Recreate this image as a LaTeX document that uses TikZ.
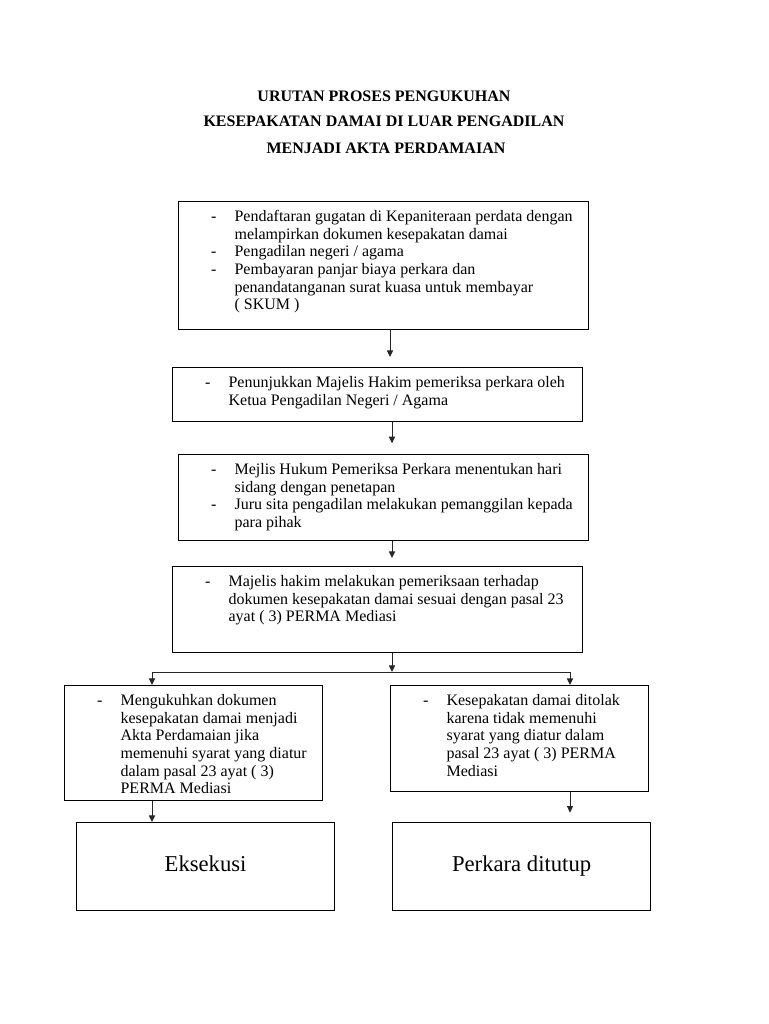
\documentclass[tikz,border=0pt]{standalone}
\usepackage{fontspec}
\setmainfont{Liberation Serif}
\usetikzlibrary{shapes,arrows.meta}
\newlength\pxu
\setlength\pxu{0.75pt}
% kotak isi dengan daftar bertanda "-"
\newcommand{\boxbody}[3]{\parbox[c][#2\pxu][t]{#1\pxu}{%
  \fontsize{12}{13.2}\selectfont\raggedright\leftskip=56\pxu
  \vspace*{5.8pt}#3}}
\newcommand{\bitem}{\par\noindent\strut\llap{\makebox[23.5\pxu][l]{-}}}
\tikzset{
  stepbox/.style = {draw=black, line width=0.9pt, inner sep=0pt,
    anchor=north west},
  endbox/.style = {stepbox, minimum width=258\pxu, minimum height=88\pxu,
    text height=11pt, text depth=3.5pt, font=\fontsize{17}{20}\selectfont},
  titleline/.style = {font=\fontsize{12}{14}\selectfont\bfseries, anchor=base},
  arr/.style = {->, line width=0.7pt, black!85}
}

\begin{document}
\begin{tikzpicture}[x=0.75pt,y=-0.75pt,>={Triangle[length=5pt,width=4.6pt]}]
\useasboundingbox (0,0) rectangle (768,1024);
% judul
\node[titleline] (t1) at (384,101) {URUTAN PROSES PENGUKUHAN};
\node[titleline] (t2) at (384,127) {KESEPAKATAN DAMAI DI LUAR PENGADILAN};
\node[titleline] (t3) at (386,153) {MENJADI AKTA PERDAMAIAN};
% kotak tahapan
\node[stepbox] (b1) at (178,201) {\boxbody{410}{128}{%
  \bitem Pendaftaran gugatan di Kepaniteraan perdata dengan\\
    melampirkan dokumen kesepakatan damai
  \bitem Pengadilan negeri / agama
  \bitem Pembayaran panjar biaya perkara dan\\
    penandatanganan surat kuasa untuk membayar\\
    ( SKUM )}};
\node[stepbox] (b2) at (172,367) {\boxbody{410}{54}{%
  \bitem Penunjukkan Majelis Hakim pemeriksa perkara oleh\\
    Ketua Pengadilan Negeri / Agama}};
\node[stepbox] (b3) at (178,454) {\boxbody{410}{86}{%
  \bitem Mejlis Hukum Pemeriksa Perkara menentukan hari\\
    sidang dengan penetapan
  \bitem Juru sita pengadilan melakukan pemanggilan kepada\\
    para pihak}};
\node[stepbox] (b4) at (172,566) {\boxbody{410}{86}{%
  \bitem Majelis hakim melakukan pemeriksaan terhadap\\
    dokumen kesepakatan damai sesuai dengan pasal 23\\
    ayat ( 3) PERMA Mediasi}};
\node[stepbox] (b5) at (64,685) {\boxbody{258}{115}{%
  \bitem Mengukuhkan dokumen\\
    kesepakatan damai menjadi\\
    Akta Perdamaian jika\\
    memenuhi syarat yang diatur\\
    dalam pasal 23 ayat ( 3)\\
    PERMA Mediasi}};
\node[stepbox] (b6) at (390,685) {\boxbody{258}{106}{%
  \bitem Kesepakatan damai ditolak\\
    karena tidak memenuhi\\
    syarat yang diatur dalam\\
    pasal 23 ayat ( 3) PERMA\\
    Mediasi}};
\node[endbox] (b7) at (76,822) {Eksekusi};
\node[endbox] (b8) at (392,822) {Perkara ditutup};
% panah
\draw[arr, shorten >=7.5pt] (390,0 |- b1.south) -- (390,0 |- b2.north);
\draw[arr, shorten >=8pt] (392,0 |- b2.south) -- (392,0 |- b3.north);
\draw[arr, shorten >=6pt] (392,0 |- b3.south) -- (392,0 |- b4.north);
\coordinate (split) at (392,672);
\coordinate (sl) at (152,672);
\coordinate (sr) at (570,672);
\draw[arr] (392,0 |- b4.south) -- (split);
\draw[line width=0.7pt, black!85] (sl) -- (sr);
\draw[arr] (sl) -- (sl |- b5.north);
\draw[arr] (sr) -- (sr |- b6.north);
\draw[arr] (152,0 |- b5.south) -- (152,0 |- b7.north);
\draw[arr, shorten >=7pt] (570,0 |- b6.south) -- (570,0 |- b8.north);
\end{tikzpicture}
\end{document}
